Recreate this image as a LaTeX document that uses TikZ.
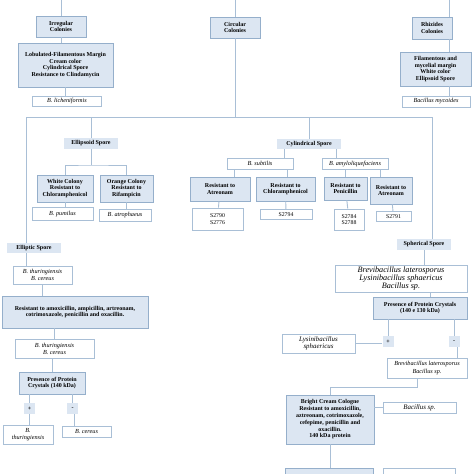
\documentclass[tikz,border=0pt]{standalone}
\usepackage{fontspec}
\setmainfont{Liberation Serif}
\usetikzlibrary{positioning}
\definecolor{boxfill}{HTML}{DCE6F2}
\definecolor{boxline}{HTML}{95AFCB}
\definecolor{linkline}{HTML}{A9BFD6}
\tikzset{basic/.style={draw=boxline,line width=0.9pt,align=center,inner sep=1pt,font=\fontsize{5.8}{6.8}\selectfont}}
\tikzset{group/.style={basic,fill=boxfill,font=\fontsize{6}{6.8}\selectfont\bfseries}}
\tikzset{spore/.style={group,draw=none}}
\tikzset{species/.style={basic,fill=white,draw=linkline,font=\fontsize{6.2}{7.2}\selectfont\itshape}}
\tikzset{bigspecies/.style={species,font=\fontsize{6.9}{7.6}\selectfont\itshape}}
\tikzset{strain/.style={basic,fill=white,draw=linkline}}
\tikzset{sign/.style={group,draw=none,minimum width=11pt,minimum height=11pt}}
\tikzset{link/.style={draw=linkline,line width=0.9pt}}

\begin{document}
\begin{tikzpicture}[x=1pt,y=-1pt]
    \clip (0,0) rectangle (474,474);
    \fill[white] (0,0) rectangle (474,474);

    % colony types
    \coordinate (topI) at (61,0);
    \coordinate (topC) at (235,0);
    \coordinate (topR) at (449,0);
    \node[group,minimum width=50pt,minimum height=21pt] (irr) at (61,26.5) {Irregular\\Colonies};
    \node[group,minimum width=50pt,minimum height=21pt] (circ) at (235,27.5) {Circular\\Colonies};
    \node[group,minimum width=40pt,minimum height=22pt] (rhiz) at (432,28) {Rhizides\\Colonies};

    \node[group,minimum width=95pt,minimum height=44pt] (lobu) at (65.5,65) {Lobulated-Filamentous Margin\\Cream color\\Cylindrical Spore\\Resistance to Clindamycin};
    \node[species,minimum width=69pt,minimum height=10pt] (lich) at (67,101) {B. licheniformis};
    \node[group,minimum width=71pt,minimum height=34pt] (fila) at (435.5,69) {Filamentous and\\mycelial margin\\White color\\Ellipsoid Spore};
    \node[species,minimum width=68pt,minimum height=11pt] (myco) at (436,101.5) {Bacillus mycoides};

    % spore shapes
    \coordinate (busL) at (26,117);
    \coordinate (busR) at (432,117);
    \node[spore,minimum width=54pt,minimum height=11pt] (ellip) at (91,143.5) {Ellipsoid Spore};
    \node[spore,minimum width=64pt,minimum height=10pt] (cyl) at (309,144) {Cylindrical Spore};
    \node[spore,minimum width=54pt,minimum height=10pt] (ellipt) at (34,248) {Elliptic Spore};
    \node[spore,minimum width=54pt,minimum height=11pt] (spher) at (424,244.5) {Spherical Spore};

    % ellipsoid branch
    \coordinate (ellipJ) at (91,165);
    \node[group,minimum width=56pt,minimum height=27pt] (white) at (65,188.5) {White Colony\\Resistant to\\Chloramphenicol};
    \node[group,minimum width=53pt,minimum height=27pt] (orange) at (126.5,188.5) {Orange Colony\\Resistant to\\Rifampicin};
    \node[species,minimum width=61pt,minimum height=13pt] (pumi) at (62.5,214) {B. pumilus};
    \node[species,minimum width=52pt,minimum height=12pt] (atro) at (125,215) {B. atrophaeus};

    % cylindrical branch
    \node[species,minimum width=66pt,minimum height=11pt] (subt) at (260,163.5) {B. subtilis};
    \node[species,minimum width=66pt,minimum height=11pt] (amylo) at (355,163.5) {B. amyloliquefaciens};
    \node[group,minimum width=60pt,minimum height=24pt] (resA) at (220,189) {Resistant to\\Atreonam};
    \node[group,minimum width=59pt,minimum height=24pt] (resC) at (285.5,189) {Resistant to\\Chloramphenicol};
    \node[group,minimum width=43pt,minimum height=23pt] (resP) at (345.5,188.5) {Resistant to\\Penicillin};
    \node[group,minimum width=42pt,minimum height=27pt] (resAb) at (391,190.5) {Resistant to\\Atreonam};
    \node[strain,minimum width=51pt,minimum height=22pt] (sA) at (217.5,219) {S2790\\S2776};
    \node[strain,minimum width=52pt,minimum height=10pt] (sB) at (286,214.5) {S2794};
    \node[strain,minimum width=30pt,minimum height=21pt] (sC) at (349,219.5) {S2784\\S2788};
    \node[strain,minimum width=35pt,minimum height=10pt] (sD) at (393.5,216.5) {S2791};

    % elliptic branch
    \node[species,minimum width=59pt,minimum height=18pt] (thce) at (42.5,275) {B. thuringiensis\\B. cereus};
    \node[group,minimum width=146pt,minimum height=32pt] (resall) at (75,312) {Resistant to amoxicillin, ampicillin, artreonam,\\cotrimoxazole, penicillin and oxacillin.};
    \node[species,minimum width=79pt,minimum height=19pt] (thceb) at (54.5,348.5) {B. thuringiensis\\B. cereus};
    \node[group,minimum width=66pt,minimum height=22pt] (presL) at (52,383) {Presence of Protein\\Crystals (140 kDa)};
    \node[sign] (plusL) at (29.5,408.5) {+};
    \node[sign] (minusL) at (72.5,408.5) {-};
    \node[species,minimum width=50pt,minimum height=19pt] (thur) at (28,434.5) {B.\\thuringiensis};
    \node[species,minimum width=49pt,minimum height=11pt] (cere) at (86.5,431.5) {B. cereus};

    % spherical branch
    \node[species,font=\fontsize{8.2}{8.2}\selectfont\itshape,minimum width=132pt,minimum height=27pt] (brev) at (401,278.5) {Brevibacillus laterosporus\\Lysinibacillus sphaericus\\Bacillus sp.};
    \node[group,minimum width=94pt,minimum height=22pt] (presR) at (420,308) {Presence of Protein Crystals\\(140 e 130 kDa)};
    \node[sign] (plusR) at (388,341.5) {+};
    \node[sign] (minusR) at (454,341.5) {-};
    \node[bigspecies,minimum width=73pt,minimum height=19pt] (lysi) at (318.5,343.5) {Lysinibacillus\\sphaericus};
    \node[species,minimum width=80pt,minimum height=20pt] (brevb) at (427,368) {Brevibacillus laterosporus\\Bacillus sp.};
    \node[group,minimum width=88pt,minimum height=49pt] (bright) at (330,419.5) {Bright Cream Cologne\\Resistant to amoxicillin,\\aztreonam, cotrimoxazole,\\cefepime, penicillin and\\oxacillin.\\140 kDa protein};
    \node[bigspecies,minimum width=73pt,minimum height=11pt] (bsp) at (419.5,407.5) {Bacillus sp.};
    \node[group,minimum width=88pt,minimum height=30pt] (botL) at (329,483) {};
    \node[species,minimum width=72pt,minimum height=20pt] (botR) at (419,478) {};

        % colony links
        \path[link] (topI) -- (irr);
        \path[link] (topC) -- (circ);
        \path[link] (topR) -- (topR |- rhiz.north);
        \path[link] (irr) -- (irr |- lobu.north);
        \path[link] (lobu.south) -- (lobu.south |- lich.north);
        \path[link] (rhiz.south -| topR) -- (topR |- fila.north);
        \path[link] (fila.south -| topR) -- (topR |- myco.north);
        \path[link] (circ) -- (circ |- busL);
        \path[link] (busL) -- (busR);
        \path[link] (busL) -- (busL |- ellipt.north);
        \path[link] (ellip) -- (ellip |- busL);
        \path[link] (cyl) -- (cyl |- busL);
        \path[link] (busR) -- (busR |- spher.north);

        % ellipsoid links
        \path[link] (ellip) -- (ellipJ);
        \path[link] (white.north) |- (ellipJ) -| (orange.north);
        \path[link] (white.south) -- (white.south |- pumi.north);
        \path[link] (orange.south) -- (orange.south |- atro.north);

        % cylindrical links
        \path[link] ([xshift=8pt]cyl.south west) -- ([xshift=8pt]cyl.south west |- subt.north);
        \path[link] ([xshift=-5pt]cyl.south east) -- ([xshift=-5pt]cyl.south east |- amylo.north);
        \path[link] ([xshift=8pt]subt.south west) -- ([xshift=8pt]subt.south west |- resA.north);
        \path[link] ([xshift=-6pt]subt.south east) -- ([xshift=-6pt]subt.south east |- resC.north);
        \path[link] ([xshift=24pt]amylo.south west) -- ([xshift=24pt]amylo.south west |- resP.north);
        \path[link] ([xshift=-8pt]amylo.south east) -- ([xshift=-8pt]amylo.south east |- resAb.north);
        \path[link] (resA) -- (sA);
        \path[link] (resC) -- (sB);
        \path[link] (resP) -- (sC);
        \path[link] (resAb) -- (sD);

        % elliptic links
        \path[link] (ellipt.south -| busL) -- (busL |- thce.north);
        \path[link] (thce.south) -- (thce.south |- resall.north);
        \path[link] (thceb.north) -- (thceb.north |- resall.south);
        \path[link] (presL.north) -- (presL.north |- thceb.south);
        \path[link] (plusL.north) -- (plusL.north |- presL.south);
        \path[link] (minusL.north) -- (minusL.north |- presL.south);
        \path[link] (plusL.south) -- (plusL.south |- thur.north);
        \path[link] ([xshift=1.5pt]minusL.south) -- ([xshift=1.5pt]minusL.south |- cere.north);

        % spherical links
        \path[link] (spher.south) -- (spher.south |- brev.north);
        \path[link] ([xshift=10pt]presR.north) -- ([xshift=10pt]presR.north |- brev.south);
        \path[link] (plusR.north) -- (plusR.north |- presR.south);
        \path[link] (minusR.north) -- (minusR.north |- presR.south);
        \path[link] (lysi.east) -- (lysi.east -| plusR.west);
        \path[link] ([xshift=3pt]minusR.south) -- ([xshift=3pt]minusR.south |- brevb.north);
        \path[link] ([xshift=-10pt]brevb.south) -- ++(0,9) -| (bright.north);
        \path[link] (bsp.west) -- (bsp.west -| bright.east);
        \path[link] (bright.south) -- (bright.south |- botL.north);
  \end{tikzpicture}
\end{document}
